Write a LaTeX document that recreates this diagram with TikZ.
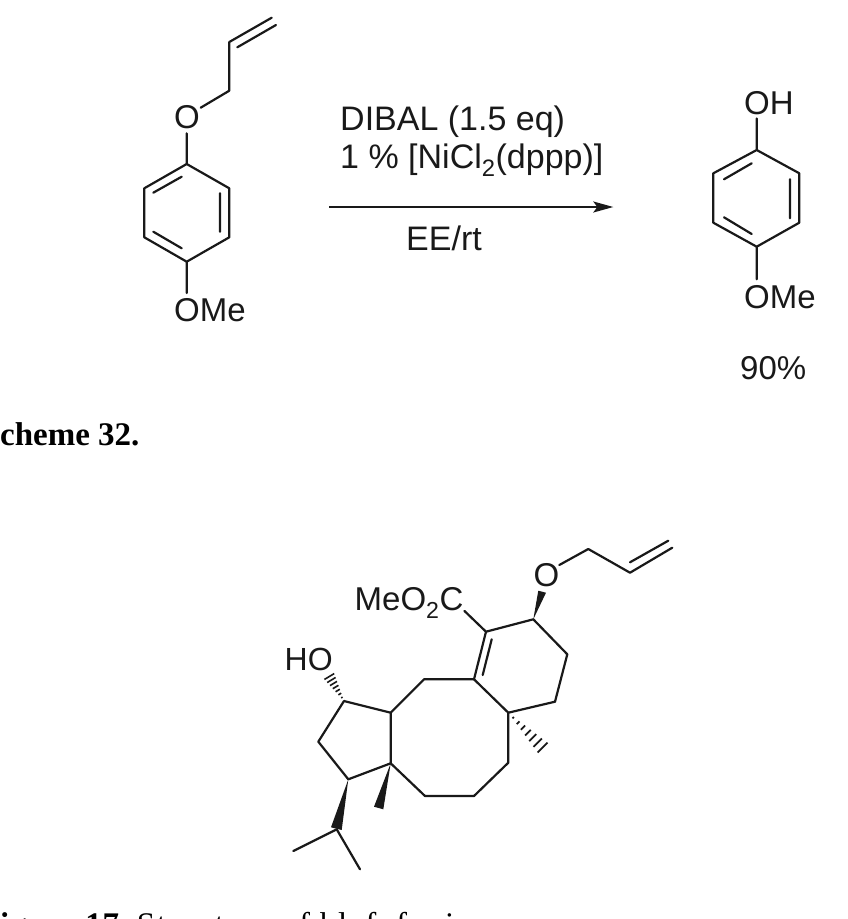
\documentclass[tikz,border=0pt]{standalone}
\usepackage{fontspec}
\setmainfont{Liberation Sans}
\newfontfamily\capfont{Liberation Serif}
\usetikzlibrary{arrows.meta,calc}
\definecolor{inkblack}{gray}{0.1}
\tikzset{
  bond/.style={line width=2.2pt, color=inkblack, line cap=round, line join=round},
  atomlabel/.style={anchor=base west, inner sep=0pt, color=inkblack, font=\fontsize{33}{36}\selectfont},
  caption/.style={anchor=base west, inner sep=0pt, color=black, font=\capfont\fontsize{33}{36}\selectfont},
  wedgebond/.style={fill=inkblack, draw=none}
}
\begin{document}
\begin{tikzpicture}[>={Stealth[length=20pt,width=11pt,inset=4pt]}, x=1pt, y=-1pt]
\useasboundingbox (0,0) rectangle (848,919);
\clip (0,0) rectangle (848,919);

% allyl ether
\coordinate (vin1) at (271.7,17.7); \coordinate (vin2) at (276,25);
\coordinate (vin3) at (229.3,42); \coordinate (vin4) at (237.3,47.3);
\coordinate (allyl) at (229.3,90.7); \coordinate (oa) at (200.7,107.7);
\coordinate (ob) at (186.7,133.3);
\coordinate (ra1) at (186.7,164); \coordinate (ra2) at (229.3,188.3);
\coordinate (ra3) at (229.3,237.3); \coordinate (ra4) at (186.7,261.7);
\coordinate (ra5) at (144.3,237.3); \coordinate (ra6) at (144.3,188.3);
\coordinate (omea) at (186.7,293);
\node[atomlabel] (etherO) at (174,128.5) {O};
\node[atomlabel] (meoA) at (174,321.7) {OMe};
\draw[bond] (vin3)--(vin1) (vin4)--(vin2) (vin3)--(allyl)--(oa) (ob)--(ra1);
\draw[bond] (ra1)--(ra2)--(ra3)--(ra4)--(ra5)--(ra6)--cycle (ra4)--(omea);
\coordinate (ia1) at (153.3,192.7); \coordinate (ia2) at (181.7,176.7);
\coordinate (ia3) at (220,193.3); \coordinate (ia4) at (220,231.7);
\coordinate (ia5) at (153.3,231.7); \coordinate (ia6) at (181.7,248.3);
\draw[bond] (ia1)--(ia2) (ia3)--(ia4) (ia5)--(ia6);

% reaction arrow
\coordinate (arrowa) at (329.3,207); \coordinate (arrowb) at (613.3,207);
\draw[->, line width=1.8pt, color=inkblack] (arrowa)--(arrowb);
\node[atomlabel, font=\fontsize{34}{36}\selectfont] (dibal) at (340,130.5) {DIBAL (1.5 eq)};
\node[atomlabel, font=\fontsize{34}{36}\selectfont] (nicl) at (340,168.5) {1 \% [NiCl\textsubscript{2}(dppp)]};
\node[atomlabel, font=\fontsize{34}{36}\selectfont] (eert) at (406,250) {EE/rt};

% phenol
\coordinate (oc) at (756.7,118.5);
\coordinate (rb1) at (756.7,150); \coordinate (rb2) at (799.3,173.3);
\coordinate (rb3) at (799.3,222.7); \coordinate (rb4) at (756.7,246.7);
\coordinate (rb5) at (713.3,222.7); \coordinate (rb6) at (713.3,173.3);
\coordinate (omeb) at (756.7,279.3);
\node[atomlabel] (hydroxA) at (744,114) {OH};
\node[atomlabel] (meoB) at (744,308.3) {OMe};
\node[atomlabel] (yield) at (740,379.3) {90\%};
\draw[bond] (oc)--(rb1)--(rb2)--(rb3)--(rb4)--(rb5)--(rb6)--(rb1) (rb4)--(omeb);
\coordinate (ib1) at (724,179.3); \coordinate (ib2) at (751.7,163.3);
\coordinate (ib3) at (790,179.3); \coordinate (ib4) at (790,218.3);
\coordinate (ib5) at (724,217.3); \coordinate (ib6) at (751.7,234);
\draw[bond] (ib1)--(ib2) (ib3)--(ib4) (ib5)--(ib6);

\node[caption] (schemecap) at (0,445) {\bfseries cheme 32.};

% tricyclic ether
\coordinate (v1) at (668.3,540.7); \coordinate (v2) at (672.3,547.7);
\coordinate (v3) at (630,562.3); \coordinate (v4) at (630,572.7);
\coordinate (v5) at (588.3,549); \coordinate (oe) at (559.3,565);
\coordinate (c1) at (533.3,619.3); \coordinate (c2) at (486,631.7);
\coordinate (c3) at (474,679.3); \coordinate (c4) at (508.3,712.7);
\coordinate (c5) at (555,701.7); \coordinate (c6) at (567.3,654.3);
\coordinate (c7) at (424,679.3); \coordinate (c8) at (390.7,712.7);
\coordinate (c9) at (390.7,763.3); \coordinate (c10) at (425,796);
\coordinate (c11) at (474,796); \coordinate (c12) at (508.3,762.7);
\coordinate (c13) at (344,701); \coordinate (c14) at (318.3,741.7);
\coordinate (c15) at (348.3,779.3); \coordinate (c16) at (336.7,829.3);
\coordinate (me1) at (293.3,851); \coordinate (me2) at (360,869.3);
\coordinate (est) at (464.5,611);
\coordinate (db1) at (491.7,639.3); \coordinate (db2) at (482.7,675);
\node[atomlabel] (allylO) at (533.5,586.5) {O};
\node[atomlabel] (ester) at (354.5,610.7) {MeO\textsubscript{2}C};
\node[atomlabel, font=\fontsize{32}{36}\selectfont] (hydroxB) at (284.5,670.5) {HO};
\draw[bond] (v1)--(v3) (v2)--(v4)--(v5)--(oe);
\draw[bond] (c1)--(c2)--(c3)--(c4)--(c5)--(c6)--cycle (db1)--(db2) (est)--(c2);
\draw[bond] (c3)--(c7)--(c8)--(c9)--(c10)--(c11)--(c12)--(c4);
\draw[bond] (c8)--(c13)--(c14)--(c15)--(c9);
\draw[bond] (me1)--(c16)--(me2);
\fill[wedgebond] (c1)--(538.3,590.7)--(546,592.7)--cycle;
\fill[wedgebond] (c9)--(383.3,809.3)--(374,806.7)--cycle;
\fill[wedgebond] (c15)--(331,827.3)--(341.7,830)--cycle;
% hashed bonds
\foreach \t in {0.14,0.28,...,1.0}{
  \draw[bond, line width=1.6pt, line cap=butt] ($(c13)!\t!(329,676)+(-\t*5,\t*3)$)--($(c13)!\t!(329,676)+(\t*5,-\t*3)$);
  \draw[bond, line width=1.8pt, line cap=butt] ($(c4)!\t!(543.3,748.3)+(-\t*5,\t*5)$)--($(c4)!\t!(543.3,748.3)+(\t*5,-\t*5)$);
}

\node[caption] (figurecap) at (0,935.5) {\addfontfeature{LetterSpace=2}\bfseries igure\hspace{1pt} 17.\mdseries\ \addfontfeature{LetterSpace=5}Structure of blafofonin};
\end{tikzpicture}
\end{document}
